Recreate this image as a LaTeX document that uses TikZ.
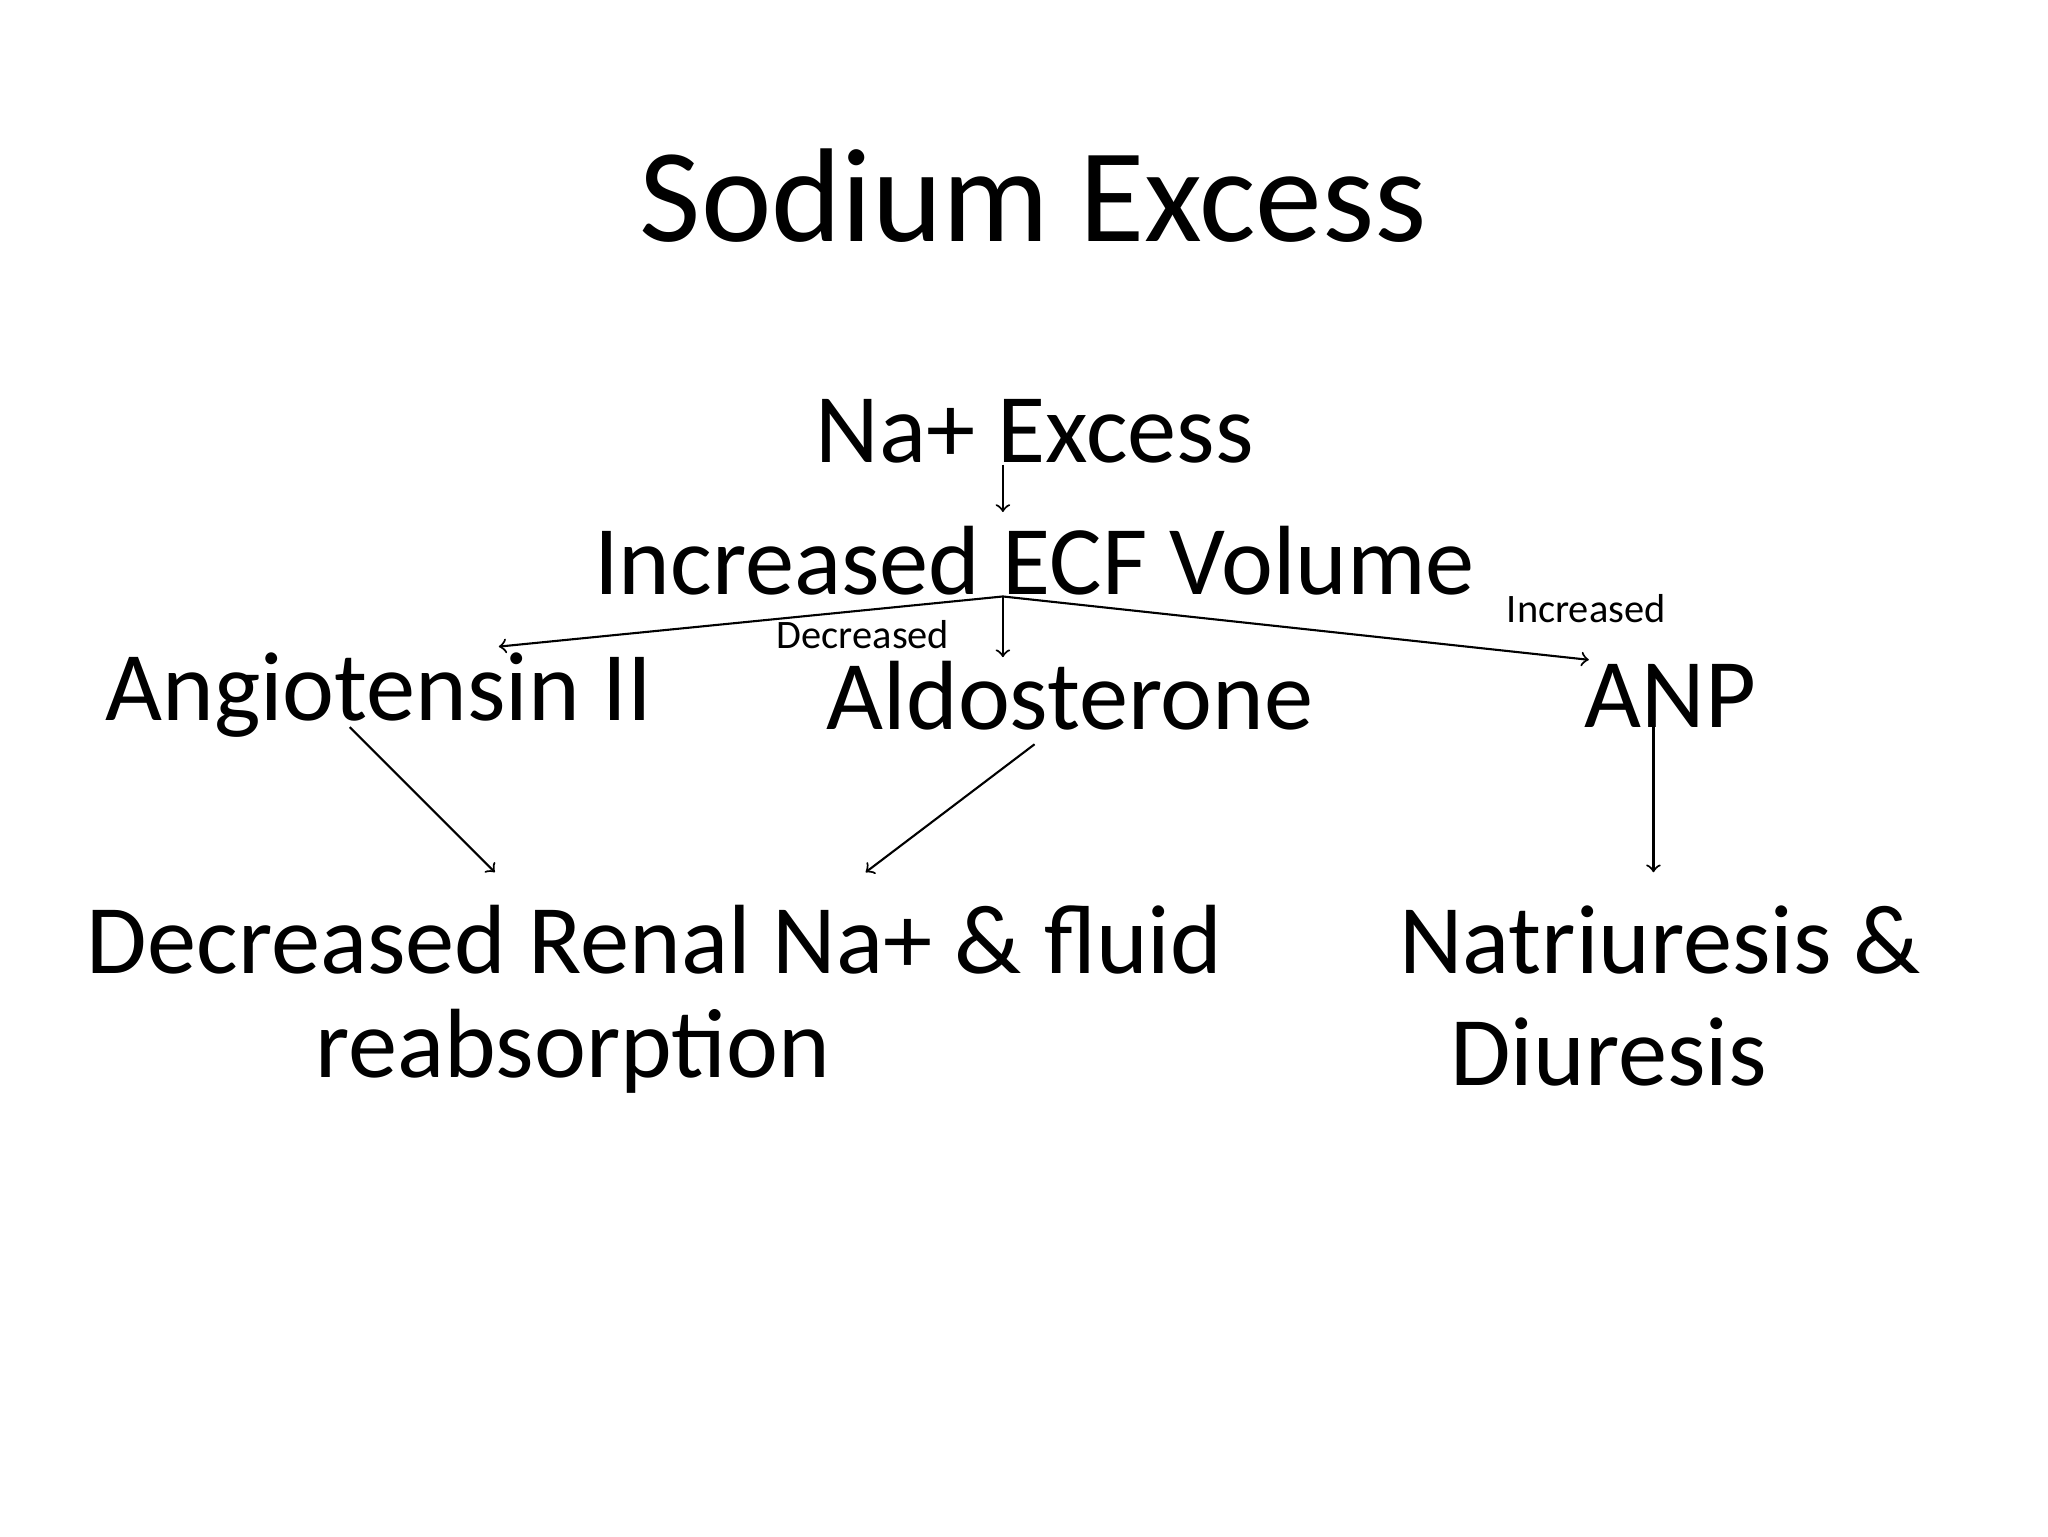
\documentclass[tikz,border=0pt]{standalone}
\usepackage{fontspec}
\setmainfont{Carlito}
\begin{document}
\begin{tikzpicture}[x=0.013196cm,y=-0.013196cm,
  main/.style={font=\fontsize{28}{32}\selectfont, inner sep=0pt},
  lbl/.style={font=\fontsize{11.5}{13}\selectfont, inner sep=0pt},
  arr/.style={->, line width=0.6pt}]
\useasboundingbox (0,0) rectangle (1552,1164);
\node[font=\fontsize{38}{44}\selectfont] (title) at (783,148) {Sodium Excess};
\node[main] (na) at (784,327) {Na+ Excess};
\node[main] (ecf) at (784,425) {Increased ECF Volume};
\node[main] (ang) at (287,527) {Angiotensin II};
\node[main] (ald) at (811,527) {Aldosterone};
\node[main] (anp) at (1266,527) {ANP};
\node[main] (dec1) at (496,712) {Decreased Renal Na+ \& fluid};
\node[main] (dec2) at (434,797) {reabsorption};
\node[main] (nat1) at (1258,712) {Natriuresis \&};
\node[main] (nat2) at (1219,797) {Diuresis};
\node[lbl] (ldec) at (654,481) {Decreased};
\node[lbl] (linc) at (1202,461) {Increased};
\coordinate (a0) at (760,352); \coordinate (a1) at (760,388);
\coordinate (s) at (760,452);
\coordinate (tA) at (378,490); \coordinate (tB) at (760,498); \coordinate (tC) at (1204,500);
\coordinate (b0) at (265,551); \coordinate (b1) at (375,661);
\coordinate (c0) at (784,564); \coordinate (c1) at (656,661);
\coordinate (d0) at (1253,550); \coordinate (d1) at (1253,661);
\draw[arr] (a0) -- (a1);
\draw[arr] (s) -- (tA);
\draw[arr] (s) -- (tB);
\draw[arr] (s) -- (tC);
\draw[arr] (b0) -- (b1);
\draw[arr] (c0) -- (c1);
\draw[arr] (d0) -- (d1);
\end{tikzpicture}
\end{document}
